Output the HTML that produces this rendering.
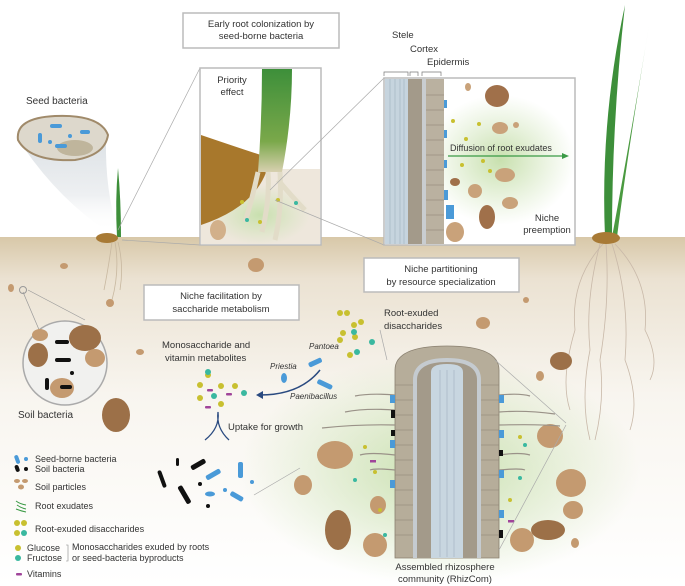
<!DOCTYPE html>
<html><head><meta charset="utf-8"><style>
html,body{margin:0;padding:0;background:#fff}
svg{display:block}
text{font-family:"Liberation Sans",sans-serif;fill:#333}
</style></head><body>
<svg width="685" height="586" viewBox="0 0 685 586" xmlns="http://www.w3.org/2000/svg">
<defs>
<linearGradient id="soil" x1="0" y1="0" x2="0" y2="1">
<stop offset="0" stop-color="#d8c8a8"/><stop offset="0.12" stop-color="#ebe2d2"/><stop offset="0.45" stop-color="#f8f5ef"/><stop offset="1" stop-color="#fff"/>
</linearGradient>
<radialGradient id="glow" cx="0.5" cy="0.5" r="0.5">
<stop offset="0" stop-color="#c8e0ae"/><stop offset="1" stop-color="#cfe4b8" stop-opacity="0"/>
</radialGradient>
<linearGradient id="cone" x1="0" y1="0" x2="0" y2="1">
<stop offset="0" stop-color="#dde2e6"/><stop offset="0.6" stop-color="#eef0f2"/><stop offset="1" stop-color="#fff" stop-opacity="0"/>
</linearGradient>
<linearGradient id="leaf" x1="0" y1="0" x2="0" y2="1">
<stop offset="0" stop-color="#3d8f3a"/><stop offset="0.7" stop-color="#7aa84a"/><stop offset="1" stop-color="#d8d0b0"/>
</linearGradient>
</defs>
<rect x="0" y="237" width="685" height="349" fill="url(#soil)"/>
<ellipse cx="440" cy="470" rx="200" ry="115" fill="url(#glow)"/>
<!-- seed bacteria -->
<path d="M24 148 Q60 162 106 140 Q105 190 118 232 L108 232 Q60 200 24 148Z" fill="url(#cone)"/>
<path d="M18 140 Q15 118 55 116 Q100 114 108 135 Q105 155 75 160 Q30 162 18 140Z" fill="#ddd8cc" stroke="#a08a6a" stroke-width="2"/>
<ellipse cx="75" cy="148" rx="18" ry="8" fill="#bfb59c"/>
<g fill="#4a9ad8"><rect x="50" y="124" width="12" height="4" rx="2"/><rect x="38" y="133" width="4" height="10" rx="2"/><rect x="55" y="144" width="12" height="4" rx="2"/><rect x="80" y="130" width="10" height="4" rx="2"/><circle cx="50" cy="142" r="2"/><circle cx="70" cy="136" r="2"/></g>
<text x="26" y="104" font-size="10">Seed bacteria</text>
<!-- seedling -->
<path d="M117 237 Q115 200 118 168 Q121 200 121 237Z" fill="#3d8f3a"/>
<ellipse cx="107" cy="238" rx="11" ry="5" fill="#a87a35"/>
<path d="M112 242 Q108 270 104 290 M115 242 Q120 270 112 300 M118 242 Q124 265 120 290" stroke="#c8b8a0" fill="none" stroke-width="0.8"/>
<line x1="118" y1="230" x2="200" y2="68" stroke="#aaa" stroke-width="0.7"/>
<line x1="122" y1="240" x2="200" y2="245" stroke="#aaa" stroke-width="0.7"/>
<!-- right plant -->
<path d="M605 237 Q600 120 625 5 Q612 120 612 237Z" fill="#3d8f3a"/>
<path d="M612 237 Q630 140 650 20 Q628 150 617 237Z" fill="#4a9a40"/>
<ellipse cx="606" cy="238" rx="14" ry="6" fill="#a87a35"/>
<g stroke="#c8b8a8" fill="none" stroke-width="0.8">
<path d="M600 244 Q585 300 590 350 Q580 400 590 440"/><path d="M606 244 Q610 300 600 360 Q605 400 595 440"/>
<path d="M612 244 Q630 300 625 360 Q640 400 630 430"/><path d="M603 244 Q570 280 575 330 Q560 380 570 410"/>
<path d="M615 244 Q650 280 645 330 Q660 360 650 380"/></g>
<!-- box1 -->
<rect x="183" y="13" width="156" height="35" fill="#fff" stroke="#bbb" stroke-width="1.5"/>
<text x="261" y="27" font-size="9.5" text-anchor="middle">Early root colonization by</text>
<text x="261" y="39" font-size="9.5" text-anchor="middle">seed-borne bacteria</text>
<!-- priority panel -->
<rect x="200" y="68" width="121" height="177" fill="#fff" stroke="#bbb" stroke-width="1.5"/>
<rect x="201" y="169" width="119" height="75" fill="#eee7dc"/>
<ellipse cx="260" cy="215" rx="50" ry="30" fill="url(#glow)"/>
<path d="M201 135 Q245 150 270 158 Q262 205 201 225Z" fill="#a8782c"/>
<path d="M262 69 L292 69 Q292 120 282 172 L258 172 Q262 120 262 69Z" fill="url(#leaf)"/>
<path d="M258 172 Q252 200 245 222 M280 172 Q282 210 275 240 M268 172 Q270 200 262 232 M278 180 Q295 200 305 210" stroke="#e2dcc8" stroke-width="5" fill="none"/>
<ellipse cx="218" cy="230" rx="8" ry="10" fill="#d2b08a"/>
<g fill="#c8c030"><circle cx="242" cy="202" r="2"/><circle cx="278" cy="200" r="2"/><circle cx="260" cy="222" r="2"/></g>
<g fill="#3ab8a0"><circle cx="247" cy="220" r="2"/><circle cx="296" cy="203" r="2"/></g>
<text x="232" y="83" font-size="9.5" text-anchor="middle">Priority</text>
<text x="232" y="95" font-size="9.5" text-anchor="middle">effect</text>
<line x1="270" y1="190" x2="384" y2="78" stroke="#aaa" stroke-width="0.7"/>
<line x1="275" y1="200" x2="384" y2="245" stroke="#aaa" stroke-width="0.7"/>
<!-- root panel -->
<text x="392" y="38" font-size="9.5">Stele</text>
<text x="410" y="52" font-size="9.5">Cortex</text>
<text x="427" y="65" font-size="9.5">Epidermis</text>
<path d="M384 76 V72 H408 V76 M410 76 V72 H418 V76 M422 76 V72 H441 V76" stroke="#777" fill="none" stroke-width="0.7"/>
<rect x="384" y="78" width="191" height="167" fill="#fff" stroke="#bbb" stroke-width="1.5"/>
<ellipse cx="500" cy="160" rx="75" ry="65" fill="url(#glow)"/>
<rect x="385" y="79" width="23" height="165" fill="#c6d4de"/>
<g stroke="#9fb0bd" stroke-width="0.6"><line x1="390" y1="79" x2="390" y2="244"/><line x1="395" y1="79" x2="395" y2="244"/><line x1="400" y1="79" x2="400" y2="244"/><line x1="404" y1="79" x2="404" y2="244"/></g>
<rect x="408" y="79" width="14" height="165" fill="#a39a8a"/>
<rect x="422" y="79" width="4" height="165" fill="#c9cdd0"/>
<rect x="426" y="79" width="18" height="165" fill="#bab1a0"/>
<g stroke="#8a8070" stroke-width="0.6"><line x1="426" y1="95" x2="444" y2="95"/><line x1="426" y1="110" x2="444" y2="110"/><line x1="426" y1="125" x2="444" y2="125"/><line x1="426" y1="140" x2="444" y2="140"/><line x1="426" y1="155" x2="444" y2="155"/><line x1="426" y1="170" x2="444" y2="170"/><line x1="426" y1="185" x2="444" y2="185"/><line x1="426" y1="200" x2="444" y2="200"/><line x1="426" y1="215" x2="444" y2="215"/><line x1="426" y1="230" x2="444" y2="230"/></g>
<g fill="#4a9ad8"><rect x="444" y="100" width="3" height="8"/><rect x="444" y="130" width="3" height="8"/><rect x="444" y="160" width="3" height="8"/><rect x="444" y="190" width="4" height="10"/><rect x="446" y="205" width="8" height="14"/></g>
<g fill="#a0704a"><ellipse cx="497" cy="96" rx="12" ry="11"/><ellipse cx="487" cy="217" rx="8" ry="12"/><ellipse cx="455" cy="182" rx="5" ry="4"/></g>
<g fill="#c9a27a"><ellipse cx="500" cy="128" rx="8" ry="6"/><ellipse cx="505" cy="175" rx="10" ry="7"/><ellipse cx="475" cy="191" rx="7" ry="7"/><ellipse cx="510" cy="203" rx="8" ry="6"/><ellipse cx="455" cy="232" rx="9" ry="10"/><ellipse cx="468" cy="87" rx="3" ry="4"/><ellipse cx="516" cy="125" rx="3" ry="3"/></g>
<g fill="#c8c030"><circle cx="453" cy="121" r="2"/><circle cx="479" cy="124" r="2"/><circle cx="466" cy="139" r="2"/><circle cx="462" cy="165" r="2"/><circle cx="483" cy="161" r="2"/><circle cx="490" cy="171" r="2"/></g>
<text x="450" y="151" font-size="9">Diffusion of root exudates</text>
<line x1="448" y1="156" x2="564" y2="156" stroke="#3a9a45" stroke-width="1.2"/>
<path d="M569 156 L562 153 L562 159Z" fill="#3a9a45"/>
<text x="547" y="221" font-size="9.5" text-anchor="middle">Niche</text>
<text x="547" y="233" font-size="9.5" text-anchor="middle">preemption</text>
<!-- niche partitioning box -->
<rect x="364" y="258" width="155" height="34" fill="#fff" stroke="#bbb" stroke-width="1.5"/>
<text x="441" y="272" font-size="9.5" text-anchor="middle">Niche partitioning</text>
<text x="441" y="285" font-size="9.5" text-anchor="middle">by resource specialization</text>
<!-- niche facilitation -->
<rect x="144" y="285" width="155" height="35" fill="#fff" stroke="#bbb" stroke-width="1.5"/>
<text x="221" y="299" font-size="9.5" text-anchor="middle">Niche facilitation by</text>
<text x="221" y="312" font-size="9.5" text-anchor="middle">saccharide metabolism</text>
<!-- soil particles -->
<g fill="#c49a70"><ellipse cx="256" cy="265" rx="8" ry="7"/><ellipse cx="64" cy="266" rx="4" ry="3"/><ellipse cx="110" cy="303" rx="4" ry="4"/><ellipse cx="11" cy="288" rx="3" ry="4"/><ellipse cx="483" cy="323" rx="7" ry="6"/><ellipse cx="526" cy="300" rx="3" ry="3"/><ellipse cx="140" cy="352" rx="4" ry="3"/></g>
<g fill="#9c7048"><ellipse cx="116" cy="415" rx="14" ry="17"/><ellipse cx="561" cy="361" rx="11" ry="9"/><ellipse cx="338" cy="530" rx="13" ry="20"/><ellipse cx="548" cy="530" rx="17" ry="10"/></g>
<g fill="#c49a70"><ellipse cx="335" cy="455" rx="18" ry="14"/><ellipse cx="550" cy="436" rx="13" ry="12"/><ellipse cx="378" cy="505" rx="8" ry="9"/><ellipse cx="375" cy="545" rx="12" ry="12"/><ellipse cx="571" cy="483" rx="15" ry="14"/><ellipse cx="573" cy="510" rx="10" ry="9"/><ellipse cx="522" cy="540" rx="12" ry="12"/><ellipse cx="303" cy="485" rx="9" ry="10"/><ellipse cx="540" cy="376" rx="4" ry="5"/><ellipse cx="575" cy="543" rx="4" ry="5"/></g>
<!-- soil bacteria circle -->
<line x1="23" y1="292" x2="40" y2="332" stroke="#999" stroke-width="0.7"/>
<line x1="28" y1="290" x2="85" y2="320" stroke="#999" stroke-width="0.7"/>
<circle cx="23" cy="290" r="3.5" fill="none" stroke="#999"/>
<circle cx="65" cy="363" r="42" fill="#f1f1ef" stroke="#aaa" stroke-width="1.5"/>
<g fill="#9c7048"><ellipse cx="85" cy="338" rx="16" ry="13"/><ellipse cx="38" cy="355" rx="10" ry="12"/></g>
<g fill="#c49a70"><ellipse cx="62" cy="388" rx="12" ry="10"/><ellipse cx="95" cy="358" rx="10" ry="9"/><ellipse cx="40" cy="335" rx="8" ry="6"/></g>
<g fill="#111"><rect x="55" y="340" width="14" height="4" rx="2"/><rect x="55" y="358" width="16" height="4" rx="2"/><rect x="45" y="378" width="4" height="12" rx="2"/><rect x="60" y="385" width="12" height="4" rx="2"/><circle cx="72" cy="373" r="2"/></g>
<text x="18" y="418" font-size="10">Soil bacteria</text>
<!-- metabolites -->
<text x="162" y="348" font-size="9.5">Monosaccharide and</text>
<text x="165" y="361" font-size="9.5">vitamin metabolites</text>
<g fill="#c8c030"><circle cx="208" cy="375" r="3"/><circle cx="200" cy="385" r="3"/><circle cx="221" cy="386" r="3"/><circle cx="235" cy="386" r="3"/><circle cx="200" cy="398" r="3"/><circle cx="221" cy="404" r="3"/></g>
<g fill="#3ab8a0"><circle cx="208" cy="372" r="3"/><circle cx="214" cy="396" r="3"/><circle cx="244" cy="393" r="3"/></g>
<g fill="#a0449a"><rect x="207" y="389" width="6" height="2.5" rx="1"/><rect x="226" y="393" width="6" height="2.5" rx="1"/><rect x="205" y="406" width="6" height="2.5" rx="1"/></g>
<path d="M320 370 Q300 395 260 395" stroke="#2a4a80" stroke-width="1.5" fill="none"/>
<path d="M256 395 L263 391 L263 399Z" fill="#2a4a80"/>
<path d="M218 412 Q220 428 205 440 M218 412 Q216 428 229 440" stroke="#2a4a80" stroke-width="1.3" fill="none"/>
<text x="228" y="430" font-size="9.5">Uptake for growth</text>
<text x="309" y="349" font-size="8" font-style="italic" fill="#555">Pantoea</text>
<text x="270" y="369" font-size="8" font-style="italic" fill="#555">Priestia</text>
<text x="290" y="399" font-size="8" font-style="italic" fill="#555">Paenibacillus</text>
<g fill="#4a9ad8"><rect x="308" y="360" width="14" height="5" rx="2" transform="rotate(-25 315 362)"/><rect x="317" y="382" width="16" height="5" rx="2" transform="rotate(25 325 384)"/><ellipse cx="284" cy="378" rx="3" ry="5"/></g>
<!-- bacteria cluster -->
<g fill="#111"><rect x="160" y="470" width="4" height="18" rx="2" transform="rotate(-20 162 479)"/><rect x="190" y="462" width="16" height="5" rx="2" transform="rotate(-30 198 464)"/><rect x="182" y="485" width="5" height="20" rx="2" transform="rotate(-30 184 495)"/><circle cx="200" cy="484" r="2"/><circle cx="208" cy="506" r="2"/><rect x="176" y="458" width="3" height="8" rx="1.5"/></g>
<g fill="#4a9ad8"><rect x="205" y="472" width="16" height="5" rx="2" transform="rotate(-30 213 474)"/><rect x="238" y="462" width="5" height="16" rx="2"/><rect x="230" y="494" width="14" height="5" rx="2" transform="rotate(30 237 496)"/><ellipse cx="210" cy="494" rx="5" ry="2.5"/><circle cx="225" cy="490" r="2"/><circle cx="252" cy="482" r="2"/></g>
<line x1="254" y1="495" x2="300" y2="468" stroke="#aaa" stroke-width="0.7"/>
<!-- disaccharides -->
<g fill="#c8c030"><circle cx="340" cy="313" r="3"/><circle cx="347" cy="313" r="3"/><circle cx="354" cy="325" r="3"/><circle cx="361" cy="322" r="3"/><circle cx="340" cy="340" r="3"/><circle cx="343" cy="333" r="3"/><circle cx="355" cy="337" r="3"/><circle cx="350" cy="355" r="3"/></g>
<g fill="#3ab8a0"><circle cx="354" cy="332" r="3"/><circle cx="372" cy="342" r="3"/><circle cx="357" cy="352" r="3"/></g>
<text x="384" y="316" font-size="9.5">Root-exuded</text>
<text x="384" y="329" font-size="9.5">disaccharides</text>
<!-- big root -->
<path d="M395 558 V370 Q395 346 447 346 Q499 346 499 370 V558Z" fill="#b6ad9a" stroke="#8a8070" stroke-width="0.8"/>
<path d="M413 558 V380 Q413 358 447 358 Q481 358 481 380 V558Z" fill="#c5cbd0"/>
<path d="M417 558 V380 Q417 362 447 362 Q477 362 477 380 V558Z" fill="#a39a8a"/>
<path d="M431 558 V372 Q431 364 447 364 Q463 364 463 372 V558Z" fill="#c8d6e0"/>
<g stroke="#9fb0bd" stroke-width="0.6"><line x1="440" y1="370" x2="440" y2="557"/><line x1="447" y1="370" x2="447" y2="557"/><line x1="454" y1="370" x2="454" y2="557"/></g>
<g stroke="#8a8070" stroke-width="0.6">
<line x1="395" y1="385" x2="413" y2="385"/><line x1="395" y1="400" x2="413" y2="400"/><line x1="395" y1="415" x2="413" y2="415"/><line x1="395" y1="430" x2="413" y2="430"/><line x1="395" y1="445" x2="413" y2="445"/><line x1="395" y1="460" x2="413" y2="460"/><line x1="395" y1="475" x2="413" y2="475"/><line x1="395" y1="490" x2="413" y2="490"/><line x1="395" y1="505" x2="413" y2="505"/><line x1="395" y1="520" x2="413" y2="520"/><line x1="395" y1="535" x2="413" y2="535"/>
<line x1="481" y1="385" x2="499" y2="385"/><line x1="481" y1="400" x2="499" y2="400"/><line x1="481" y1="415" x2="499" y2="415"/><line x1="481" y1="430" x2="499" y2="430"/><line x1="481" y1="445" x2="499" y2="445"/><line x1="481" y1="460" x2="499" y2="460"/><line x1="481" y1="475" x2="499" y2="475"/><line x1="481" y1="490" x2="499" y2="490"/><line x1="481" y1="505" x2="499" y2="505"/><line x1="481" y1="520" x2="499" y2="520"/><line x1="481" y1="535" x2="499" y2="535"/></g>
<g stroke="#9a9288" stroke-width="1.2" fill="none">
<path d="M395 395 Q370 393 355 396"/><path d="M395 410 Q365 408 345 412"/><path d="M395 425 Q360 424 322 428"/><path d="M395 455 Q370 452 360 455"/><path d="M395 470 Q375 468 370 470"/>
<path d="M499 395 Q520 393 530 396"/><path d="M499 412 Q525 410 555 414"/><path d="M499 425 Q540 424 560 426"/><path d="M499 455 Q520 452 530 455"/><path d="M499 470 Q520 468 525 470"/></g>
<g fill="#4a9ad8"><rect x="390" y="395" width="5" height="8"/><rect x="390" y="440" width="5" height="8"/><rect x="390" y="480" width="5" height="8"/><rect x="499" y="395" width="5" height="8"/><rect x="499" y="430" width="5" height="8"/><rect x="499" y="470" width="5" height="8"/><rect x="499" y="510" width="5" height="8"/></g>
<g fill="#111"><rect x="391" y="410" width="4" height="8"/><rect x="391" y="430" width="4" height="6"/><rect x="499" y="450" width="4" height="6"/><rect x="499" y="530" width="4" height="8"/></g>
<g fill="#c8c030"><circle cx="365" cy="447" r="2"/><circle cx="375" cy="472" r="2"/><circle cx="520" cy="437" r="2"/><circle cx="510" cy="500" r="2"/><circle cx="380" cy="510" r="2"/></g>
<g fill="#3ab8a0"><circle cx="355" cy="480" r="2"/><circle cx="525" cy="445" r="2"/><circle cx="520" cy="478" r="2"/><circle cx="385" cy="535" r="2"/></g>
<g fill="#a0449a"><rect x="370" y="460" width="6" height="2.5"/><rect x="508" y="520" width="6" height="2.5"/></g>
<line x1="387" y1="360" x2="380" y2="330" stroke="#aaa" stroke-width="0.7"/>
<line x1="495" y1="360" x2="566" y2="423" stroke="#aaa" stroke-width="0.7"/>
<line x1="499" y1="550" x2="566" y2="425" stroke="#aaa" stroke-width="0.7"/>
<text x="445" y="570" font-size="9.5" text-anchor="middle">Assembled rhizosphere</text>
<text x="445" y="582" font-size="9.5" text-anchor="middle">community (RhizCom)</text>
<!-- legend -->
<g fill="#4a9ad8"><rect x="15" y="455" width="4" height="9" rx="2" transform="rotate(-20 17 459)"/><circle cx="26" cy="459" r="2"/></g>
<g fill="#111"><rect x="15" y="465" width="4" height="7" rx="2" transform="rotate(-20 17 468)"/><circle cx="26" cy="469" r="2"/></g>
<text x="35" y="462" font-size="9">Seed-borne bacteria</text>
<text x="35" y="472" font-size="9">Soil bacteria</text>
<g fill="#c49a70"><ellipse cx="17" cy="481" rx="3" ry="2"/><ellipse cx="25" cy="481" rx="3" ry="2"/><ellipse cx="21" cy="487" rx="3" ry="2.5"/></g>
<text x="35" y="490" font-size="9">Soil particles</text>
<path d="M16 501 Q20 504 26 505 M17 505 Q21 508 26 509 M16 509 Q21 511 26 512" stroke="#3a9a45" fill="none" stroke-width="1"/>
<text x="35" y="509" font-size="9">Root exudates</text>
<g><circle cx="17" cy="523" r="3" fill="#c8c030"/><circle cx="24" cy="523" r="3" fill="#c8c030"/><circle cx="17" cy="533" r="3" fill="#c8c030"/><circle cx="24" cy="533" r="3" fill="#3ab8a0"/></g>
<text x="35" y="532" font-size="9">Root-exuded disaccharides</text>
<circle cx="18" cy="548" r="3" fill="#c8c030"/><circle cx="18" cy="558" r="3" fill="#3ab8a0"/>
<text x="27" y="551" font-size="9">Glucose</text>
<text x="27" y="561" font-size="9">Fructose</text>
<path d="M66 545 h2 v16 h-2" stroke="#888" fill="none" stroke-width="0.6"/>
<text x="72" y="550" font-size="9">Monosaccharides exuded by roots</text>
<text x="72" y="561" font-size="9">or seed-bacteria byproducts</text>
<rect x="16" y="573" width="6" height="2.5" rx="1" fill="#a0449a"/>
<text x="27" y="577" font-size="9">Vitamins</text>
</svg>
</body></html>
